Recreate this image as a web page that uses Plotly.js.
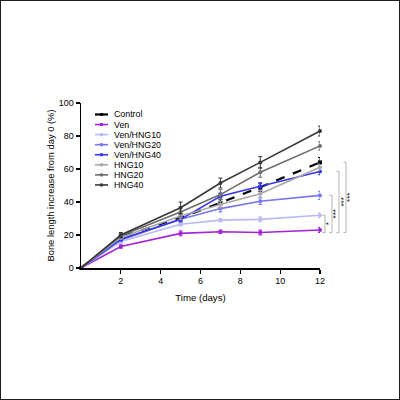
<!DOCTYPE html>
<html>
<head>
<meta charset="utf-8">
<script src="https://cdn.plot.ly/plotly-3.0.1.min.js"></script>
<style>
  html, body { margin: 0; padding: 0; background: #fff; }
  #wrap { position: relative; width: 400px; height: 400px; }
  #chart { width: 400px; height: 400px; }
  #frame { position: absolute; left: 0; top: 0; width: 400px; height: 400px;
           box-sizing: border-box; border: 1px solid #1e1e1e; pointer-events: none; }
</style>
</head>
<body>
<div id="wrap"><div id="chart"></div><div id="frame"></div></div>
<script>
// Sampling days
const days = [0, 2, 5, 7, 9, 12];

// Group names (legend order)
const groups = ["Control", "Ven", "Ven/HNG10", "Ven/HNG20", "Ven/HNG40", "HNG10", "HNG20", "HNG40"];

// Mean bone length increase (%) per group
const control  = [0, 19,   30.5, 39.5, 49,   64];
const ven      = [0, 13,   21,   22,   21.5, 23];
const venHng10 = [0, 16,   26.5, 29,   29.5, 32];
const venHng20 = [0, 17,   29.5, 36,   40.5, 44];
const venHng40 = [0, 17.5, 29.5, 43.5, 49.5, 58.5];
const hng10    = [0, 18.5, 31.5, 38.5, 45,   61];
const hng20    = [0, 19.5, 34,   44.5, 58,   74];
const hng40    = [0, 20,   36.5, 51.5, 64,   83];

// Error (SEM) per group
const controlErr  = [0, 1,   2,   3,   2.5, 3];
const venErr      = [0, 1,   1.5, 1,   1.5, 1.5];
const venHng10Err = [0, 1,   1,   1,   1.5, 1.5];
const venHng20Err = [0, 1,   1.5, 2,   2,   2.5];
const venHng40Err = [0, 1,   1.5, 2,   2,   2];
const hng10Err    = [0, 1,   2,   2,   2,   2];
const hng20Err    = [0, 1.5, 3,   3,   3,   2.5];
const hng40Err    = [0, 1.5, 3.5, 3,   3.5, 3];

// Significance at day 12 versus Ven
const sigVs     = ["Ven/HNG10", "Ven/HNG20", "Ven/HNG40", "Control"];
const sigLabels = ["*", "***", "***", "***"];

const xTicks = [2, 4, 6, 8, 10, 12];
const yTicks = [0, 20, 40, 60, 80, 100];

const means = [control, ven, venHng10, venHng20, venHng40, hng10, hng20, hng40];
const errs  = [controlErr, venErr, venHng10Err, venHng20Err, venHng40Err, hng10Err, hng20Err, hng40Err];

const styles = {
  "Control":   { color: "#000000", dash: "dash",  width: 2.2 },
  "Ven":       { color: "#a522d8", dash: "solid", width: 1.6 },
  "Ven/HNG10": { color: "#b9baf4", dash: "solid", width: 1.6 },
  "Ven/HNG20": { color: "#7677ee", dash: "solid", width: 1.6 },
  "Ven/HNG40": { color: "#3535ee", dash: "solid", width: 1.6 },
  "HNG10":     { color: "#a8a8a8", dash: "solid", width: 1.6 },
  "HNG20":     { color: "#6e6e6e", dash: "solid", width: 1.6 },
  "HNG40":     { color: "#383838", dash: "solid", width: 1.6 }
};

// Plot area geometry (pixels)
const W = 400, H = 400;
const M = { l: 81, r: 80, t: 102.5, b: 132 };
const plotW = W - M.l - M.r, plotH = H - M.t - M.b;
const px2x = p => (p - M.l) / plotW;
const py2y = p => (H - M.b - p) / plotH;

const traces = groups.map((g, i) => ({
  type: "scatter",
  mode: "lines+markers",
  name: g,
  x: days,
  y: means[i],
  error_y: { type: "data", array: errs[i], visible: true, color: styles[g].color, thickness: 1, width: 2 },
  line: { color: styles[g].color, width: styles[g].width, dash: styles[g].dash },
  marker: { color: styles[g].color, size: 4, symbol: g === "Control" ? "square" : "circle" },
  showlegend: false,
  cliponaxis: false
}));

// Legend drawn as shapes + annotations for compact row spacing
const shapes = [];
const annotations = [];
const legTop = 114, legStep = 10.1, legX0 = 95, legX1 = 108, legText = 112;
groups.forEach((g, i) => {
  const py = legTop + i * legStep;
  const s = styles[g];
  shapes.push({ type: "line", xref: "paper", yref: "paper",
    x0: px2x(legX0), x1: px2x(legX1), y0: py2y(py), y1: py2y(py),
    line: { color: s.color, width: s.width } });
  shapes.push({ type: "rect", xref: "paper", yref: "paper",
    x0: px2x(100), x1: px2x(103), y0: py2y(py - 1.5), y1: py2y(py + 1.5),
    line: { width: 0 }, fillcolor: s.color });
  annotations.push({ xref: "paper", yref: "paper", x: px2x(legText), y: py2y(py),
    xanchor: "left", yanchor: "middle", showarrow: false, text: g,
    font: { family: "Liberation Sans, Arial, sans-serif", size: 8.8, color: "#000" } });
});

// Significance brackets at day 12
const last = days.length - 1;
const bracketX = [325, 332, 339, 346];
const bottom = ven[last] - venErr[last];
sigVs.forEach((g, i) => {
  const gi = groups.indexOf(g);
  const top = means[gi][last];
  const xb = px2x(bracketX[i]);
  const xc = px2x(bracketX[i] - 2.5);
  const ln = { color: "#b4b4b4", width: 1 };
  shapes.push({ type: "line", xref: "paper", yref: "y", x0: xb, x1: xb, y0: bottom, y1: top, line: ln });
  shapes.push({ type: "line", xref: "paper", yref: "y", x0: xc, x1: xb, y0: top, y1: top, line: ln });
  shapes.push({ type: "line", xref: "paper", yref: "y", x0: xc, x1: xb, y0: bottom, y1: bottom, line: ln });
  annotations.push({ xref: "paper", yref: "y", x: px2x(bracketX[i] + 3.5), y: (top + bottom) / 2,
    showarrow: false, text: sigLabels[i], textangle: -90, xanchor: "center", yanchor: "middle",
    font: { family: "Liberation Sans, Arial, sans-serif", size: 8, color: "#000" } });
});

const layout = {
  width: W, height: H,
  margin: M,
  paper_bgcolor: "#ffffff",
  plot_bgcolor: "#ffffff",
  showlegend: false,
  font: { family: "Liberation Sans, Arial, sans-serif", color: "#000" },
  xaxis: {
    range: [0, 12], tickvals: xTicks, ticktext: xTicks.map(String),
    showgrid: false, zeroline: false, showline: true, linecolor: "#000", linewidth: 1.5,
    ticks: "outside", ticklen: 4, tickwidth: 1.3, tickcolor: "#000",
    tickfont: { size: 9, color: "#000" },
    title: { text: "Time (days)", font: { size: 9.6, color: "#000" }, standoff: 9 }
  },
  yaxis: {
    range: [0, 100], tickvals: yTicks, ticktext: yTicks.map(String),
    showgrid: false, zeroline: false, showline: true, linecolor: "#000", linewidth: 1.5,
    ticks: "outside", ticklen: 4, tickwidth: 1.3, tickcolor: "#000",
    tickfont: { size: 9, color: "#000" },
    title: { text: "Bone length increase from day 0 (%)", font: { size: 9.4, color: "#000" }, standoff: 2 }
  },
  shapes: shapes,
  annotations: annotations
};

Plotly.newPlot("chart", traces, layout, { displayModeBar: false, staticPlot: true });
</script>
</body>
</html>
